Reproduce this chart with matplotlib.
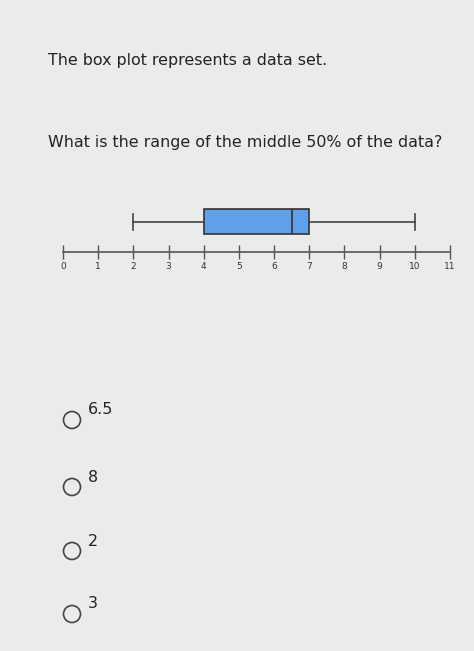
import matplotlib
matplotlib.use("Agg")
import matplotlib.pyplot as plt
from matplotlib.patches import Circle

whislo, q1, med, q3, whishi = 2, 4, 6.5, 7, 10
ticks = list(range(0, 12))
choices = ["6.5", "8", "2", "3"]
title1 = "The box plot represents a data set."
title2 = "What is the range of the middle 50% of the data?"

W, H = 474, 651
fig = plt.figure(figsize=(W/100, H/100), dpi=100, facecolor="#ebebeb")
fig.text(48/W, 1-60/H, title1, fontsize=11.4, color="#222222", va="center")
fig.text(48/W, 1-142/H, title2, fontsize=11.4, color="#222222", va="center")

ax = fig.add_axes([63/W, 1-252/H, (450-63)/W, 52/H])
ax.set_facecolor("none")
stats = [dict(whislo=whislo, q1=q1, med=med, q3=q3, whishi=whishi, fliers=[])]
ax.bxp(stats, positions=[0.58], widths=0.48, vert=False, patch_artist=True,
       boxprops=dict(facecolor="#5fa0e8", edgecolor="#333333", linewidth=1.2),
       medianprops=dict(color="#333333", linewidth=1.2),
       whiskerprops=dict(color="#444444", linewidth=1.2),
       capprops=dict(color="#444444", linewidth=1.2), capwidths=0.3)
ax.set_xlim(0, 11)
ax.set_ylim(0, 1)
for s in ["top", "left", "right"]:
    ax.spines[s].set_visible(False)
ax.spines["bottom"].set_color("#555555")
ax.spines["bottom"].set_linewidth(1.2)
ax.set_yticks([])
ax.set_xticks(ticks)
ax.set_xticklabels([str(t) for t in ticks], fontsize=6.5, color="#333333")
ax.tick_params(axis="x", direction="inout", length=10, width=1, color="#555555", pad=2)

ys = [410, 477, 541, 604]
for y, c in zip(ys, choices):
    fig.patches.append(Circle((0.72, (H-(y+10))/100), 0.085, transform=fig.dpi_scale_trans,
                              fill=False, edgecolor="#444444", linewidth=1.2))
    fig.text(88/W, 1-y/H, c, fontsize=11.4, color="#222222", va="center")

fig.savefig("out.png", dpi=100, facecolor=fig.get_facecolor())
